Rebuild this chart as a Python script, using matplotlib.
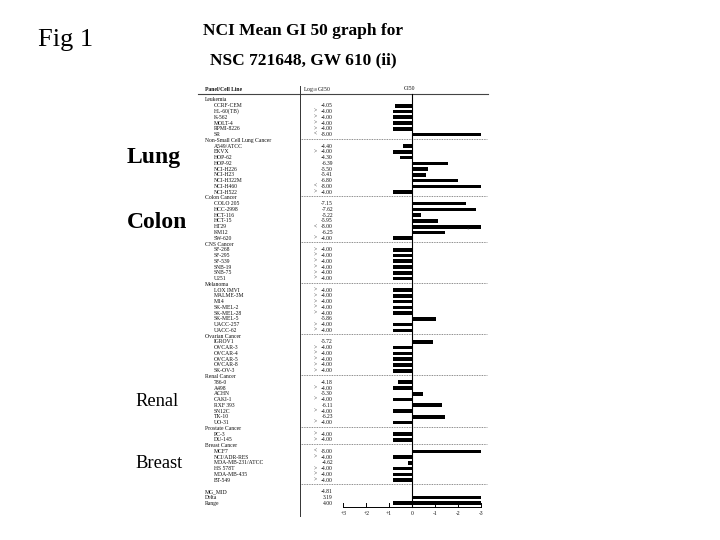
import numpy as np
import matplotlib
matplotlib.use("Agg")
import matplotlib.pyplot as plt

plt.rcParams['font.family'] = ['Liberation Serif', 'DejaVu Serif']
plt.rcParams['mathtext.fontset'] = 'stix'

# ---- data ----
panel_names = ["Leukemia", "Non-Small Cell Lung Cancer", "Colon Cancer", "CNS Cancer",
               "Melanoma", "Ovarian Cancer", "Renal Cancer", "Prostate Cancer", "Breast Cancer"]

leukemia_lines = ["CCRF-CEM", "HL-60(TB)", "K-562", "MOLT-4", "RPMI-8226", "SR"]
leukemia_logs = [-4.05, -4.00, -4.00, -4.00, -4.00, -8.00]
leukemia_flags = ["", ">", ">", ">", ">", "<"]

nsclc_lines = ["A549/ATCC", "EKVX", "HOP-62", "HOP-92", "NCI-H226", "NCI-H23",
               "NCI-H322M", "NCI-H460", "NCI-H522"]
nsclc_logs = [-4.40, -4.00, -4.30, -6.39, -5.50, -5.41, -6.80, -8.00, -4.00]
nsclc_flags = ["", ">", "", "", "", "", "", "<", ">"]

colon_lines = ["COLO 205", "HCC-2998", "HCT-116", "HCT-15", "HT29", "KM12", "SW-620"]
colon_logs = [-7.15, -7.62, -5.22, -5.95, -8.00, -6.25, -4.00]
colon_flags = ["", "", "", "", "<", "", ">"]

cns_lines = ["SF-268", "SF-295", "SF-539", "SNB-19", "SNB-75", "U251"]
cns_logs = [-4.00, -4.00, -4.00, -4.00, -4.00, -4.00]
cns_flags = [">", ">", ">", ">", ">", ">"]

melanoma_lines = ["LOX IMVI", "MALME-3M", "M14", "SK-MEL-2", "SK-MEL-28", "SK-MEL-5",
                  "UACC-257", "UACC-62"]
melanoma_logs = [-4.00, -4.00, -4.00, -4.00, -4.00, -5.86, -4.00, -4.00]
melanoma_flags = [">", ">", ">", ">", ">", "", ">", ">"]

ovarian_lines = ["IGROV1", "OVCAR-3", "OVCAR-4", "OVCAR-5", "OVCAR-8", "SK-OV-3"]
ovarian_logs = [-5.72, -4.00, -4.00, -4.00, -4.00, -4.00]
ovarian_flags = ["", ">", ">", ">", ">", ">"]

renal_lines = ["786-0", "A498", "ACHN", "CAKI-1", "RXF 393", "SN12C", "TK-10", "UO-31"]
renal_logs = [-4.18, -4.00, -5.30, -4.00, -6.11, -4.00, -6.23, -4.00]
renal_flags = ["", ">", "", ">", "", ">", "", ">"]

prostate_lines = ["PC-3", "DU-145"]
prostate_logs = [-4.00, -4.00]
prostate_flags = [">", ">"]

breast_lines = ["MCF7", "NCI/ADR-RES", "MDA-MB-231/ATCC", "HS 578T", "MDA-MB-435", "BT-549"]
breast_logs = [-8.00, -4.00, -4.62, -4.00, -4.00, -4.00]
breast_flags = ["<", ">", "", ">", ">", ">"]

panel_lines = [leukemia_lines, nsclc_lines, colon_lines, cns_lines, melanoma_lines,
               ovarian_lines, renal_lines, prostate_lines, breast_lines]
panel_logs = [leukemia_logs, nsclc_logs, colon_logs, cns_logs, melanoma_logs,
              ovarian_logs, renal_logs, prostate_logs, breast_logs]
panel_flags = [leukemia_flags, nsclc_flags, colon_flags, cns_flags, melanoma_flags,
               ovarian_flags, renal_flags, prostate_flags, breast_flags]

mg_mid = -4.81
delta = 3.19
range_val = 4.00

axis_ticks = [3, 2, 1, 0, -1, -2, -3]
axis_tick_labels = ["+3", "+2", "+1", "0", "-1", "-2", "-3"]

# ---- page layout (pixel helpers for the scanned panel) ----
ZERO_PX, UNIT_PX = 412.0, 22.9
ROW0_PX, ROW_PX = 100.0, 5.76


def xpx(p):
    return (ZERO_PX - p) / UNIT_PX


def ypx(p):
    return (p - ROW0_PX) / ROW_PX


fig = plt.figure(figsize=(7.2, 5.4), dpi=100)
fig.patch.set_facecolor('white')

fig.text(38 / 720, 1 - 40 / 540, "Fig 1", fontsize=19, va='center', ha='left')
fig.text(303 / 720, 1 - 31 / 540, "NCI Mean GI 50 graph for", fontsize=12.5,
         fontweight='bold', ha='center', va='center')
fig.text(303 / 720, 1 - 60 / 540, "NSC 721648, GW 610 (ii)", fontsize=12.5,
         fontweight='bold', ha='center', va='center')

fig.text(127 / 720, 1 - 158 / 540, "Lung", fontsize=17, fontweight='bold', va='center')
fig.text(127 / 720, 1 - 223 / 540, "Colon", fontsize=17, fontweight='bold', va='center')
fig.text(135 / 720, 1 - 401 / 540, "Renal", fontsize=13.3, va='center')
fig.text(135 / 720, 1 - 463 / 540, "Breast", fontsize=13.3, va='center')

left_px, right_px, top_px, bot_px = 195, 492, 82, 528
ax = fig.add_axes([left_px / 720, 1 - bot_px / 540,
                   (right_px - left_px) / 720, (bot_px - top_px) / 540])
ax.set_xlim(xpx(left_px), xpx(right_px))
ax.set_ylim(ypx(bot_px), ypx(top_px))
ax.axis('off')

txt = dict(fontsize=4.1, color='#111111', va='center')
bar_kw = dict(height=0.62, color='black', linewidth=0)

# header
ax.text(xpx(205), ypx(90), "Panel/Cell Line", fontweight='bold', ha='left', **txt)
ax.text(xpx(303), ypx(90), r"Log$_{10}$ GI50", ha='left', **txt)
ax.text(xpx(410), ypx(89), "GI50", ha='center', **txt)
ax.plot([xpx(198), xpx(488)], [ypx(94), ypx(94)], color='#444444', lw=0.8)

row = 0
all_logs = []
for name, lines, logs, flags in zip(panel_names, panel_lines, panel_logs, panel_flags):
    if row > 0:
        ax.plot([xpx(300), xpx(487)], [row - 0.3, row - 0.3], color='#666666',
                lw=0.6, ls=(0, (1, 1)))
    ax.text(xpx(205), row, name, ha='left', **txt)
    row += 1
    for cell, val, flag in zip(lines, logs, flags):
        ax.text(xpx(214), row, cell, ha='left', **txt)
        if flag:
            ax.text(xpx(315), row, flag, ha='center', **txt)
        ax.text(xpx(333), row, f"{val:.2f}", ha='right', **txt)
        dev = np.clip(val - mg_mid, -3, 3)
        ax.barh(row, dev, left=0, **bar_kw)
        all_logs.append(val)
        row += 1

ax.plot([xpx(300), xpx(487)], [row - 0.3, row - 0.3], color='#666666',
        lw=0.6, ls=(0, (1, 1)))

# HT29 stray mark
ht29_row = 1 + len(leukemia_lines) + 1 + len(nsclc_lines) + 1 + colon_lines.index("HT29")
ax.text(xpx(468), ht29_row + 0.5, "*", ha='center', fontsize=3.5, color='#333333', va='center')

# summary rows
row += 1
summary_names = ["MG_MID", "Delta", "Range"]
summary_vals = [mg_mid, delta, range_val]
for k, (nm, v) in enumerate(zip(summary_names, summary_vals)):
    ax.text(xpx(205), row + k, nm, ha='left', **txt)
    ax.text(xpx(333), row + k, f"{v:.2f}", ha='right', **txt)

hi = np.clip(max(all_logs) - mg_mid, -3, 3)
lo = np.clip(min(all_logs) - mg_mid, -3, 3)
ax.barh(row + 1, np.clip(-delta, -3, 3), left=0, **bar_kw)
ax.barh(row + 2, lo - hi, left=hi, **bar_kw)

# divider and zero line
ax.plot([xpx(300), xpx(300)], [ypx(86), ypx(516)], color='#333333', lw=0.7)
axis_row = row + 2.6
ax.plot([0, 0], [ypx(94), axis_row], color='black', lw=0.8)

# bottom scale
ax.plot([axis_ticks[0], axis_ticks[-1]], [axis_row, axis_row], color='black', lw=0.7)
for t, lab in zip(axis_ticks, axis_tick_labels):
    ax.plot([t, t], [axis_row, axis_row - 0.6], color='black', lw=0.7)
    ax.text(t, axis_row + 1.2, lab, ha='center', **txt)

fig.savefig("out.png", dpi=100)
